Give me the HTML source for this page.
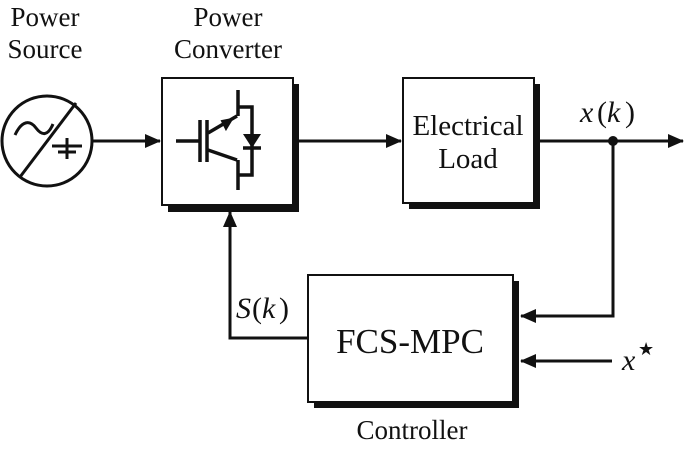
<!DOCTYPE html>
<html><head><style>
body{margin:0;background:#fff;width:685px;height:449px;overflow:hidden}
svg text{font-family:"Liberation Serif","Times New Roman","DejaVu Serif",serif;fill:#111}
</style></head><body>
<svg width="685" height="449" viewBox="0 0 685 449" xmlns="http://www.w3.org/2000/svg">
<defs><marker id="b" markerWidth="16" markerHeight="14" refX="15" refY="7" orient="auto" markerUnits="userSpaceOnUse"><path d="M0,0 L16,7 L0,14 Z" fill="#111"/></marker></defs>
<g fill="#111"><rect x="168" y="84" width="131" height="128"/><rect x="409" y="84" width="131" height="125"/><rect x="314" y="281" width="205" height="127"/></g>
<g fill="#fff" stroke="#111" stroke-width="2"><rect x="162" y="78" width="131" height="127"/><rect x="403" y="78" width="131" height="125"/><rect x="308" y="275" width="205" height="127"/></g>
<g font-size="27" text-anchor="middle">
<text x="45" y="26">Power</text><text x="45" y="58">Source</text>
<text x="228" y="26">Power</text><text x="228" y="58">Converter</text>
<text x="468" y="135" font-size="29">Electrical</text><text x="468" y="168" font-size="29">Load</text>
<text x="412" y="439">Controller</text>
</g>
<text x="410" y="353" font-size="35" text-anchor="middle">FCS-MPC</text>
<text x="580" y="122" font-size="30" font-style="italic">x</text><text x="597" y="122" font-size="30">(</text><text x="607" y="122" font-size="30" font-style="italic">k</text><text x="625" y="122" font-size="30">)</text>
<text x="236" y="318" font-size="30" font-style="italic">S</text><text x="252" y="318" font-size="30">(</text><text x="262" y="318" font-size="30" font-style="italic">k</text><text x="279" y="318" font-size="30">)</text>
<text x="622" y="370" font-size="30" font-style="italic">x</text><text x="638" y="355" font-size="18">★</text>
<g stroke="#111" stroke-width="3" fill="none">
<circle cx="47" cy="141" r="45"/>
<line x1="20" y1="177" x2="76" y2="103"/>
<path d="M15,135 C22,120 30,120 36,128 C42,136 48,136 53,124"/>
<line x1="52" y1="146" x2="82" y2="146"/><line x1="58" y1="152" x2="76" y2="152"/><line x1="67" y1="138" x2="67" y2="159"/>
<line x1="93" y1="141" x2="160" y2="141" marker-end="url(#b)"/>
<line x1="299" y1="141" x2="401" y2="141" marker-end="url(#b)"/>
<line x1="540" y1="141" x2="683" y2="141" marker-end="url(#b)"/>
<polyline points="613,141 613,316 521,316" marker-end="url(#b)"/>
<line x1="612" y1="361" x2="521" y2="361" marker-end="url(#b)"/>
<polyline points="308,338 230,338 230,212" marker-end="url(#b)"/>
</g>
<circle cx="613" cy="141" r="5" fill="#111"/>
<g stroke="#111" stroke-width="3.5" fill="none">
<line x1="176" y1="141" x2="199" y2="141"/>
<line x1="200" y1="120" x2="200" y2="162"/><line x1="207" y1="120" x2="207" y2="162"/>
<line x1="208" y1="133" x2="237" y2="116"/>
<line x1="208" y1="150" x2="237" y2="160"/>
<line x1="238" y1="90" x2="238" y2="116"/><line x1="238" y1="160" x2="238" y2="190"/>
<polyline points="238,107 252,107 252,175 238,175"/>
<line x1="243" y1="148" x2="261" y2="148"/>
</g>
<path d="M243,134 L261,134 L252,148 Z" fill="#111"/>
<path d="M222,121 L232,119 L226,129 Z" fill="#111" stroke="#111" stroke-width="2"/>
</svg>
</body></html>
